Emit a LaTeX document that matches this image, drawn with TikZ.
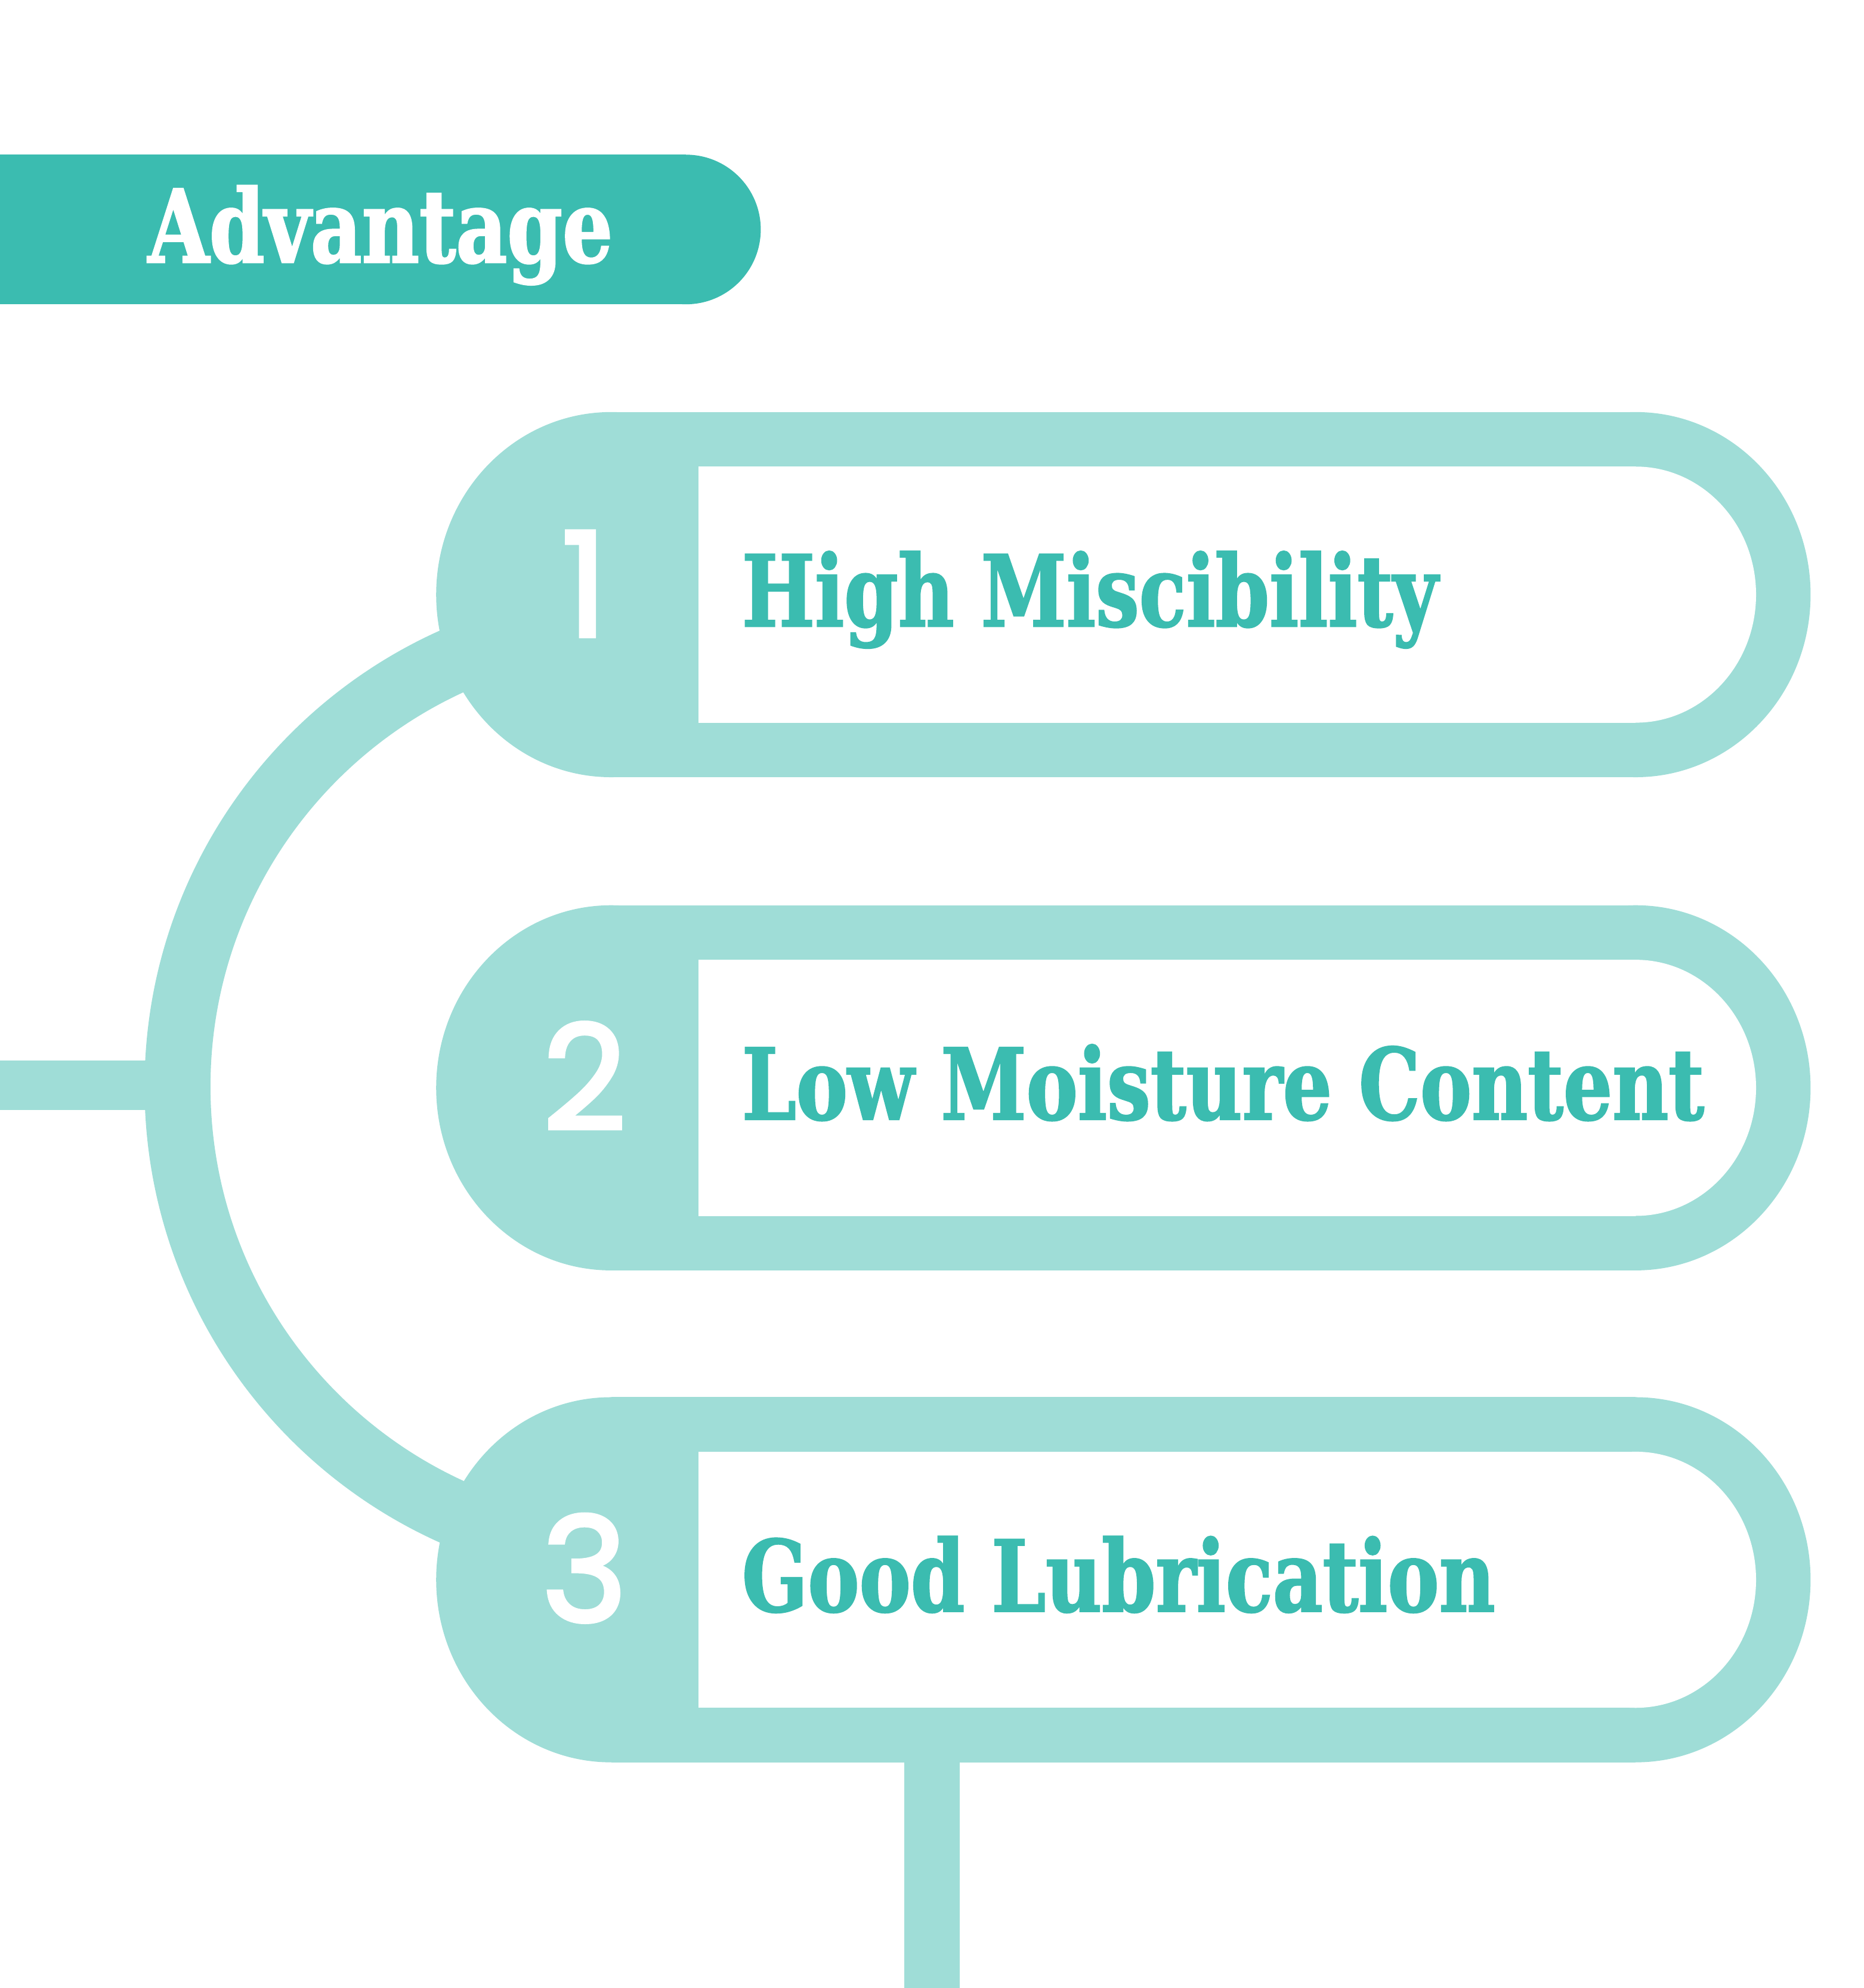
\documentclass[tikz,border=0pt]{standalone}
\usepackage{fontspec}
\setmainfont{DejaVu Serif}
\newfontfamily\labf[FakeStretch=0.78,BoldFont={DejaVu Serif Bold},BoldFeatures={FakeStretch=0.78,FakeBold=1.5}]{DejaVu Serif}
\newfontfamily\numf[FakeBold=2.5]{Poppins}
\definecolor{dark}{HTML}{3BBCB0}
\definecolor{light}{HTML}{9FDDD7}
\begin{document}
\begin{tikzpicture}[x=1pt,y=-1pt,
  lab/.style={anchor=base west,text=dark,font=\fontsize{78}{80}\labf\bfseries,inner sep=0},
  num/.style={anchor=base,text=white,font=\fontsize{115}{120}\numf,inner sep=0}]
\useasboundingbox (0,0) rectangle (1470,1568);
% connectors
\coordinate (hl) at (0,856);
\coordinate (hr) at (140,856);
\draw[light,line width=39] (hl) -- (hr);
\draw[light,line width=52] (508,489) arc[start angle=-90,end angle=-270,radius=368];
\coordinate (vt) at (735,1380);
\coordinate (vb) at (735,1568);
\draw[light,line width=44] (vt) -- (vb);
% header
\fill[dark] (0,122) rectangle (541,240);
\fill[dark] (541,181) circle[radius=59];
\node[anchor=base,text=white,font=\fontsize{80}{84}\labf\bfseries,inner sep=0] (adv) at (300,207) {Advantage};
% pills
\foreach \c/\n/\t in {469/1/High Miscibility,858/2/Low Moisture Content,1246/3/Good Lubrication}{
  \fill[light] (482,\c) ellipse[x radius=138,y radius=144];
  \fill[light] (1290,\c) ellipse[x radius=138,y radius=144];
  \fill[light] (482,\c-144) rectangle (1290,\c+144);
  \fill[white] (551,\c-101) rectangle (1290,\c+101);
  \fill[white] (1290,\c) ellipse[x radius=95,y radius=101];
  \node[num] (n\n) at (461,\c+33) {\n};
  \node[lab] (t\n) at (585,\c+25) {\t};
}
\end{tikzpicture}
\end{document}
